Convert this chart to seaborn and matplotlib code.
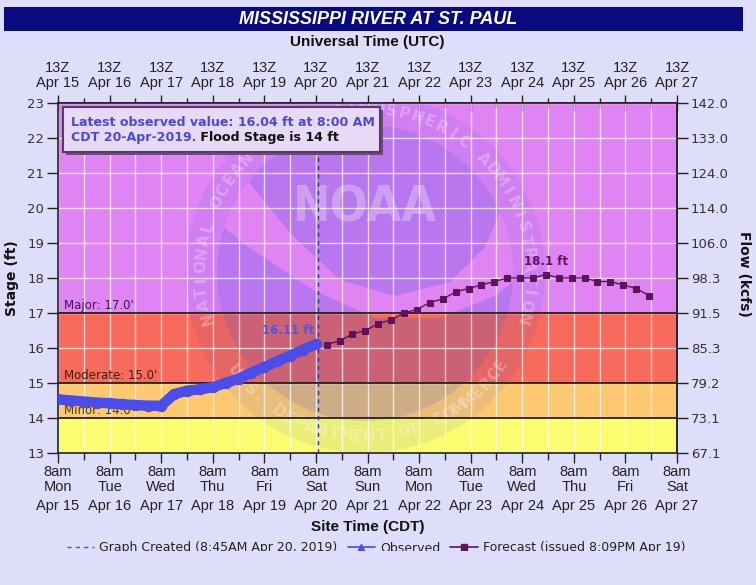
import matplotlib
matplotlib.use("Agg")
import matplotlib.pyplot as plt
import matplotlib.dates as mdates
from matplotlib.patches import Rectangle, Circle, Wedge, Polygon
from matplotlib.lines import Line2D
from matplotlib.transforms import IdentityTransform, blended_transform_factory
import numpy as np
import pandas as pd
import seaborn as sns

# observed stage (ft), every 6 h from 8am CDT Apr 15
obs_stage = [14.53, 14.50, 14.47, 14.44, 14.42, 14.39, 14.37, 14.35, 14.35, 14.68, 14.78,
             14.82, 14.88, 15.00, 15.12, 15.30, 15.45, 15.62, 15.78, 15.95, 16.11]
# forecast stage (ft), every 6 h from 1pm CDT Apr 20
fcst_stage = [16.1, 16.2, 16.4, 16.5, 16.7, 16.8, 17.0, 17.1, 17.3, 17.4, 17.6, 17.7, 17.8,
              17.9, 18.0, 18.0, 18.0, 18.1, 18.0, 18.0, 18.0, 17.9, 17.9, 17.8, 17.7, 17.5]
obs_times = pd.date_range("2019-04-15 08:00", periods=len(obs_stage), freq="6h")
fcst_times = pd.date_range("2019-04-20 13:00", periods=len(fcst_stage), freq="6h")

day_ticks = pd.date_range("2019-04-15 08:00", "2019-04-27 08:00", freq="D")
half_ticks = pd.date_range("2019-04-15 20:00", "2019-04-26 20:00", freq="D")
weekdays = ["Mon", "Tue", "Wed", "Thu", "Fri", "Sat", "Sun", "Mon", "Tue", "Wed", "Thu", "Fri", "Sat"]
day_labels = ["Apr 15", "Apr 16", "Apr 17", "Apr 18", "Apr 19", "Apr 20", "Apr 21",
              "Apr 22", "Apr 23", "Apr 24", "Apr 25", "Apr 26", "Apr 27"]
stage_ticks = list(range(13, 24))
flow_labels = ["67.1", "73.1", "79.2", "85.3", "91.5", "98.3", "106.0", "114.0", "124.0", "133.0", "142.0"]
flood_levels = [14.0, 15.0, 17.0]
flood_names = ["Minor", "Moderate", "Major"]
flood_label_colors = ["#4a3a18", "#4a1a10", "#3a1a4a"]
band_edges = [13, 14, 15, 17, 23]
band_colors = ["#fcfc70", "#fcc872", "#f86a5c", "#e084f4"]
created = pd.Timestamp("2019-04-20 08:45")

BG = "#dedefa"
OBS = "#4c4ce6"
FC = "#5c145c"
W, H = 756, 585

sns.set_theme(style="white")
plt.rcParams["font.family"] = ["DejaVu Sans"]

fig = plt.figure(figsize=(W / 100, H / 100), dpi=100, facecolor=BG)
ax = fig.add_axes([58 / W, (H - 453) / H, 619 / W, 350 / H])

for lo, hi, c in zip(band_edges[:-1], band_edges[1:], band_colors):
    ax.axhspan(lo, hi, color=c, lw=0, zorder=0)

# NOAA watermark (pixel space, y from top)
def dp(x, y):
    return (x, H - y)

cx, cy = dp(365, 273)
ident = IdentityTransform()
ax.add_patch(Wedge((cx, cy), 180, 0, 360, width=32, transform=ident, color="#1a40dc", alpha=0.08, lw=0, zorder=0.2))
clip_disc = Circle((cx, cy), 148, transform=ident)
upper = [(225, 150), (247, 180), (290, 233), (340, 280), (395, 296), (450, 282), (485, 247), (505, 200), (520, 150)]
lower = [(205, 212), (247, 246), (313, 290), (375, 318), (440, 318), (495, 296), (530, 268)]
top_poly = [dp(*p) for p in upper] + [dp(560, 60), dp(180, 60)]
bot_poly = [dp(*p) for p in lower] + [dp(560, 460), dp(180, 460)]
for poly in (top_poly, bot_poly):
    pp = Polygon(poly, closed=True, transform=ident, color="#1a40dc", alpha=0.2, lw=0, zorder=0.3)
    ax.add_patch(pp)
    pp.set_clip_path(clip_disc)
ax.text(cx, cy + 66, "NOAA", transform=ident, ha="center", va="center", fontsize=36,
        fontweight="bold", fontstretch="condensed", color="white", alpha=0.3, zorder=0.4)
ring_top = "NATIONAL OCEANIC AND ATMOSPHERIC ADMINISTRATION"
for i, ch in enumerate(ring_top):
    th = np.deg2rad(196 - i * 212 / (len(ring_top) - 1))
    ax.text(cx + 164 * np.cos(th), cy + 164 * np.sin(th), ch, transform=ident, ha="center", va="center",
            rotation=np.rad2deg(th) - 90, fontsize=11, fontweight="bold", color="white", alpha=0.28, zorder=0.4)
ring_bot = "U.S. DEPARTMENT OF COMMERCE"
for i, ch in enumerate(ring_bot):
    th = np.deg2rad(217 + i * 109 / (len(ring_bot) - 1))
    ax.text(cx + 164 * np.cos(th), cy + 164 * np.sin(th), ch, transform=ident, ha="center", va="center",
            rotation=np.rad2deg(th) + 90, fontsize=11, fontweight="bold", color="white", alpha=0.28, zorder=0.4)

for lvl in flood_levels:
    ax.axhline(lvl, color="#111111", lw=1.2, zorder=2)
tr = blended_transform_factory(ax.transAxes, ax.transData)
for lvl, name, c in zip(flood_levels, flood_names, flood_label_colors):
    ax.text(6 / 619, lvl + 0.04, f"{name}: {lvl:.1f}'", transform=tr, ha="left", va="bottom",
            fontsize=8.5, color=c, zorder=3)

obs_df = pd.DataFrame({"time": obs_times, "stage": obs_stage})
fc_df = pd.DataFrame({"time": fcst_times, "stage": fcst_stage})
sns.lineplot(data=obs_df, x="time", y="stage", ax=ax, color=OBS, lw=7.5, marker="o", ms=7.5, mec=OBS,
             estimator=None, solid_capstyle="round", zorder=5)
sns.lineplot(data=fc_df, x="time", y="stage", ax=ax, color=FC, lw=1, marker="s", ms=5, mec=FC,
             estimator=None, zorder=5)
ax.axvline(mdates.date2num(created), color="#30309a", lw=1, ls=(0, (3, 3)), zorder=4)

ax.annotate(f"{max(obs_stage):.2f} ft", (mdates.date2num(obs_times[-1]), max(obs_stage)),
            xytext=(-1, 5), textcoords="offset points", ha="right", va="bottom",
            fontsize=8.5, fontweight="bold", color="#5555dd", zorder=6)
pk = int(np.argmax(fcst_stage))
ax.annotate(f"{fcst_stage[pk]:.1f} ft", (mdates.date2num(fcst_times[pk]), fcst_stage[pk]),
            xytext=(0, 5), textcoords="offset points", ha="center", va="bottom",
            fontsize=8.5, fontweight="bold", color=FC, zorder=6)

ax.set_xlim(day_ticks[0], day_ticks[-1])
ax.set_ylim(13, 23)
ax.set_xticks(mdates.date2num(day_ticks), labels=[f"8am\n{d}" for d in weekdays],
              fontfamily="Liberation Sans", fontsize=10.5, linespacing=1.05, color="#222222")
ax.set_xticks(mdates.date2num(half_ticks), minor=True)
ax.set_yticks(stage_ticks, labels=[str(s) for s in stage_ticks], fontsize=9.5, color="#333333")
ax.set_axisbelow(True)
ax.grid(True, which="both", axis="x", color="white", lw=1, alpha=0.7)
ax.grid(True, which="major", axis="y", color="white", lw=1, alpha=0.7)
ax.tick_params(axis="x", which="major", direction="out", length=7, width=1, pad=2, color="#222222", bottom=True)
ax.tick_params(axis="x", which="minor", direction="out", length=5, width=1, color="#222222", bottom=True)
ax.tick_params(axis="y", direction="out", length=8, width=1, pad=2, color="#222222", left=True)
ax.set_xlabel("")
ax.set_ylabel("")
for s in ax.spines.values():
    s.set_color("#222222")
    s.set_linewidth(1.2)

btr = blended_transform_factory(ax.transData, ax.transAxes)
for t, lab in zip(day_ticks, day_labels):
    ax.text(mdates.date2num(t), -0.152, lab, transform=btr, ha="center", va="center",
            fontsize=10.5, fontfamily="Liberation Sans", color="#222222")

secx = ax.secondary_xaxis("top")
secx.set_xticks(mdates.date2num(day_ticks), labels=[f"13Z\n{d}" for d in day_labels],
                fontfamily="Liberation Sans", fontsize=10.5, linespacing=1.05, color="#222222")
secx.set_xticks(mdates.date2num(half_ticks), minor=True)
secx.tick_params(which="major", direction="inout", length=11, width=1, pad=4, color="#222222")
secx.tick_params(which="minor", direction="inout", length=7, width=1, color="#222222")
secy = ax.secondary_yaxis("right")
secy.set_yticks(stage_ticks, labels=flow_labels, fontsize=9.5, color="#333333")
secy.tick_params(direction="out", length=8, width=1, pad=2, color="#222222")
for s in list(secx.spines.values()) + list(secy.spines.values()):
    s.set_color("#222222")
    s.set_linewidth(1.2)

# info box
ax.add_patch(Rectangle((8 / 619, (453 - 155) / 350), 317 / 619, 45 / 350, transform=ax.transAxes,
                       color="#6a4a7a", lw=0, zorder=6))
ax.add_patch(Rectangle((5 / 619, (453 - 152) / 350), 317 / 619, 45 / 350, transform=ax.transAxes,
                       facecolor="#e8daf6", edgecolor="#5a3a6a", lw=1.5, zorder=7))
ax.text(13 / 619, (453 - 122) / 350, "Latest observed value: 16.04 ft at 8:00 AM", transform=ax.transAxes,
        ha="left", va="center", fontsize=9.1, fontweight="bold", color="#4a4ad8", zorder=8)
t1 = ax.text(13 / 619, (453 - 137) / 350, "CDT 20-Apr-2019.", transform=ax.transAxes,
             ha="left", va="center", fontsize=9.1, fontweight="bold", color="#4a4ad8", zorder=8)
ax.annotate(" Flood Stage is 14 ft", xy=(1, 0.5), xycoords=t1, ha="left", va="center",
            fontsize=9.1, fontweight="bold", color="#111111", zorder=8)

# title bar and axis titles
fig.add_artist(Rectangle((4 / W, (H - 31) / H), 739 / W, 24 / H, transform=fig.transFigure,
                         color="#0a0a80", lw=0))
fig.text(378 / W, (H - 19) / H, "MISSISSIPPI RIVER AT ST. PAUL", ha="center", va="center", color="white",
         fontsize=13, fontweight="bold", fontstyle="italic", fontfamily="Liberation Sans")
fig.text(367.5 / W, (H - 42) / H, "Universal Time (UTC)", ha="center", va="center", color="#111111",
         fontsize=11, fontweight="bold", fontfamily="Liberation Sans")
fig.text(367.5 / W, (H - 527) / H, "Site Time (CDT)", ha="center", va="center", color="#111111",
         fontsize=11, fontweight="bold", fontfamily="Liberation Sans")
fig.text(12 / W, (H - 278) / H, "Stage (ft)", rotation=90, ha="center", va="center", color="#111111",
         fontsize=10, fontweight="bold")
fig.text(744 / W, (H - 274) / H, "Flow (kcfs)", rotation=270, ha="center", va="center", color="#111111",
         fontsize=10, fontweight="bold")

handles = [Line2D([], [], color="#5050a0", lw=1, ls=(0, (3, 3))),
           Line2D([], [], color=OBS, lw=1.2, marker="^", ms=5),
           Line2D([], [], color=FC, lw=1.2, marker="s", ms=4)]
labels = ["Graph Created (8:45AM Apr 20, 2019)", "Observed", "Forecast (issued 8:09PM Apr 19)"]
fig.legend(handles, labels, loc="center", bbox_to_anchor=(376 / W, (H - 548) / H), ncol=3, frameon=False,
           fontsize=9, handlelength=2.2, handletextpad=0.4, columnspacing=0.8, labelcolor="#222222")
fig.add_artist(Rectangle((0, 0), 1, (H - 551) / H, transform=fig.transFigure, color=BG, lw=0, zorder=10))

fig.savefig("out.png", dpi=100, facecolor=BG)
